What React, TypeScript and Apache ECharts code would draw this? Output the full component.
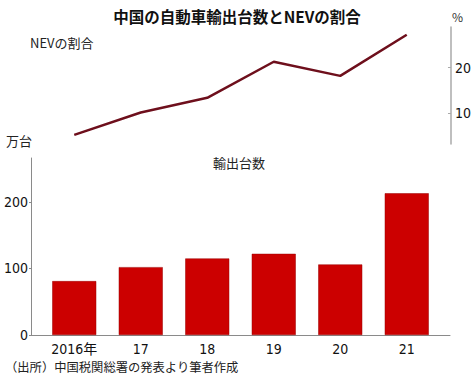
import React, { useEffect, useRef } from "react";
import * as echarts from "echarts";

const categories = ["2016年", "17", "18", "19", "20", "21"];
const exportUnits = [81, 102, 115, 122, 106, 213];
const nevShare = [5.3, 10.2, 13.4, 21.3, 18.2, 27.2];
const barTicks = [0, 100, 200];
const shareTicks = [10, 20];

const NUM_FONT = "'Liberation Sans Narrow', 'DejaVu Sans Condensed', 'Noto Sans CJK JP', sans-serif";
const JP_FONT = "'Noto Sans CJK JP', sans-serif";

export default function App() {
  const ref = useRef<HTMLDivElement>(null);
  useEffect(() => {
    if (!ref.current) return;
    const chart = echarts.init(ref.current, null, { renderer: "svg" });
    chart.setOption({
      animation: false,
      backgroundColor: "#ffffff",
      title: {
        text: "中国の自動車輸出台数とNEVの割合",
        left: "center",
        top: 3,
        textStyle: { fontFamily: JP_FONT, fontSize: 15.5, fontWeight: "bold", color: "#111" },
      },
      grid: [
        { left: 41, right: 34, top: 27, height: 117 },
        { left: 41, right: 34, top: 158, bottom: 44 },
        { left: 31, right: 24, top: 158, bottom: 44 },
      ],
      xAxis: [
        { type: "category", gridIndex: 0, data: categories, show: false },
        {
          type: "category",
          gridIndex: 1,
          data: categories,
          axisLine: { show: false },
          axisTick: { show: false },
          axisLabel: { fontFamily: NUM_FONT, fontSize: 14, color: "#111", margin: 7 },
        },
        {
          type: "value",
          gridIndex: 2,
          min: 0,
          max: 1,
          axisLine: { show: true, lineStyle: { color: "#8a8a8a", width: 1 } },
          axisTick: { show: false },
          axisLabel: { show: false },
          splitLine: { show: false },
        },
      ],
      yAxis: [
        {
          type: "value",
          gridIndex: 0,
          position: "right",
          offset: 11,
          min: 3.3,
          max: 28.9,
          axisLine: { show: true, lineStyle: { color: "#aaaaaa", width: 1.5 } },
          axisTick: { show: true, inside: true, length: 3, customValues: shareTicks, lineStyle: { color: "#aaaaaa" } },
          axisLabel: { customValues: shareTicks, fontFamily: NUM_FONT, fontSize: 14, color: "#111", margin: 4 },
          splitLine: { show: false },
        },
        {
          type: "value",
          gridIndex: 1,
          min: 0,
          max: 266,
          offset: 10,
          axisLine: { show: true, lineStyle: { color: "#8a8a8a", width: 1 } },
          axisTick: { show: true, length: 2, customValues: barTicks, lineStyle: { color: "#8a8a8a" } },
          axisLabel: { customValues: barTicks, fontFamily: NUM_FONT, fontSize: 14, color: "#111", margin: 3 },
          splitLine: { show: false },
        },
        { type: "value", gridIndex: 2, show: false, min: 0, max: 1 },
      ],
      series: [
        {
          type: "line",
          xAxisIndex: 0,
          yAxisIndex: 0,
          data: nevShare,
          symbol: "none",
          lineStyle: { color: "#6e0f1c", width: 2.5 },
        },
        {
          type: "bar",
          xAxisIndex: 1,
          yAxisIndex: 1,
          data: exportUnits,
          barWidth: 44,
          itemStyle: { color: "#cc0000", borderColor: "#9a0000", borderWidth: 0.5 },
        },
      ],
      graphic: [
        { type: "text", left: 452, top: 10, style: { text: "%", fontFamily: JP_FONT, fontSize: 12, fill: "#333" } },
        { type: "text", left: 30, top: 36, style: { text: "NEVの割合", fontFamily: JP_FONT, fontSize: 13, fill: "#222" } },
        { type: "text", left: 6, top: 134, style: { text: "万台", fontFamily: JP_FONT, fontSize: 13, fill: "#222" } },
        { type: "text", left: 213, top: 156, style: { text: "輸出台数", fontFamily: JP_FONT, fontSize: 13, fill: "#222" } },
        { type: "text", left: 5, top: 361, style: { text: "（出所）中国税関総署の発表より筆者作成", fontFamily: JP_FONT, fontSize: 12.3, fill: "#222" } },
      ],
    });
    return () => chart.dispose();
  }, []);
  return <div ref={ref} style={{ width: 474, height: 379, position: "absolute", left: 0, top: 0 }} />;
}
